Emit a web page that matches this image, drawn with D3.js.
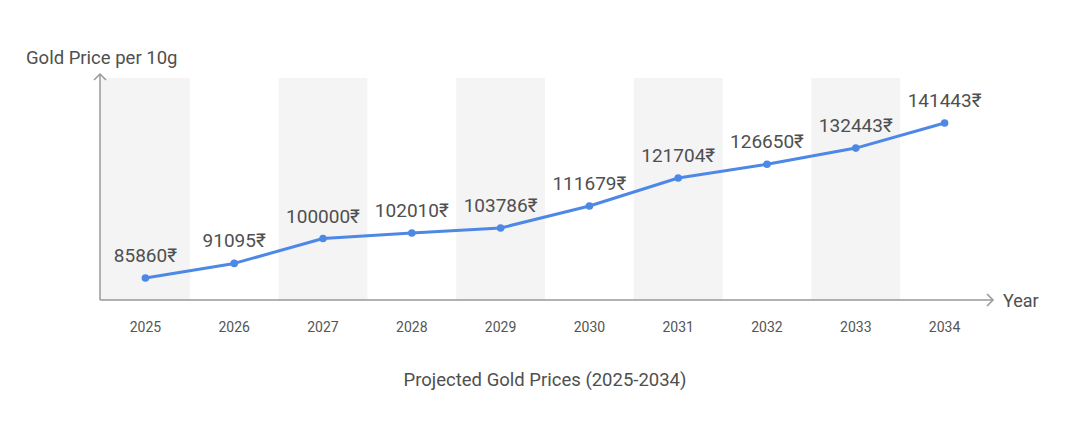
<!DOCTYPE html>
<html><head><meta charset="utf-8">
<script src="https://cdn.jsdelivr.net/npm/d3@7"></script>
<style>body{margin:0;background:#fff;} text{font-family:Roboto, sans-serif;}</style>
</head><body>
<svg id="c" width="1068" height="435"></svg>
<script>
const years = ["2025","2026","2027","2028","2029","2030","2031","2032","2033","2034"];
const prices = [85860, 91095, 100000, 102010, 103786, 111679, 121704, 126650, 132443, 141443];
const yTitle = "Gold Price per 10g";
const xTitle = "Year";
const chartTitle = "Projected Gold Prices (2025-2034)";

const svg = d3.select("#c");
const pLeft = 101, pRight = 989, pTop = 78, pBottom = 300;
const x = d3.scaleBand().domain(years).range([pLeft, pRight]).padding(0);
const y = d3.scaleLinear().domain([77970, 157570]).range([pBottom, pTop]);
const cx = d => x(d) + x.bandwidth()/2;

// bands
svg.append("g").selectAll("rect").data(years.filter((d,i)=>i%2===0)).join("rect")
  .attr("x", d=>x(d)).attr("y", pTop).attr("width", x.bandwidth()).attr("height", pBottom-pTop)
  .attr("fill", "#f4f4f4");

// axes
const axisColor = "#999";
svg.append("line").attr("x1",100).attr("x2",100).attr("y1",pBottom).attr("y2",74).attr("stroke",axisColor).attr("stroke-width",1.5);
svg.append("path").attr("d","M94,80 L100,74 L106,80").attr("fill","none").attr("stroke",axisColor).attr("stroke-width",1.5);
svg.append("line").attr("x1",100).attr("x2",993).attr("y1",pBottom).attr("y2",pBottom).attr("stroke",axisColor).attr("stroke-width",1.5);
svg.append("path").attr("d","M987,294 L993,300 L987,306").attr("fill","none").attr("stroke",axisColor).attr("stroke-width",1.5);

// year labels
svg.append("g").selectAll("text").data(years).join("text")
  .attr("x", cx).attr("y", 332).attr("text-anchor","middle")
  .attr("font-size", 14).attr("fill","#555").text(d=>d);

// line
const pts = years.map((d,i)=>({year:d, v:prices[i]}));
svg.append("path").datum(pts)
  .attr("d", d3.line().x(d=>cx(d.year)).y(d=>y(d.v)))
  .attr("fill","none").attr("stroke","#4e88e6").attr("stroke-width",3).attr("stroke-linejoin","round");
svg.append("g").selectAll("circle").data(pts).join("circle")
  .attr("cx", d=>cx(d.year)).attr("cy", d=>y(d.v)).attr("r",3.8).attr("fill","#4e88e6");

// value labels
svg.append("g").selectAll("text").data(pts).join("text")
  .attr("x", d=>cx(d.year)).attr("y", d=>y(d.v)-16).attr("text-anchor","middle")
  .attr("font-size", 19).attr("fill","#4f4f4f").text(d=>d.v+"₹");

// titles
svg.append("text").attr("x",26).attr("y",64).attr("font-size",18.5).attr("fill","#4f4f4f").text(yTitle);
svg.append("text").attr("x",1003).attr("y",307).attr("font-size",18).attr("fill","#4f4f4f").text(xTitle);
svg.append("text").attr("x",545).attr("y",386).attr("text-anchor","middle").attr("font-size",18.5).attr("fill","#4f4f4f").text(chartTitle);
</script>
</body></html>
